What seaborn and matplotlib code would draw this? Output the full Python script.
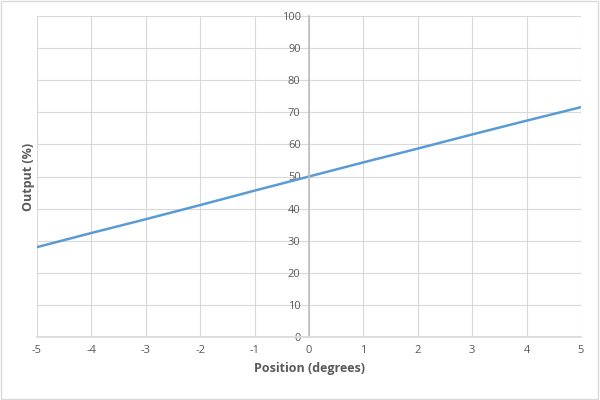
import matplotlib
matplotlib.use("Agg")
import matplotlib.pyplot as plt
import seaborn as sns
import pandas as pd

# values
positions = [-5, -4, -3, -2, -1, 0, 1, 2, 3, 4, 5]
outputs = [28.0, 32.4, 36.7, 41.1, 45.6, 50.0, 54.4, 58.7, 63.1, 67.4, 71.6]
x_ticks = [-5, -4, -3, -2, -1, 0, 1, 2, 3, 4, 5]
y_ticks = [0, 10, 20, 30, 40, 50, 60, 70, 80, 90, 100]

sns.set_theme(style="white")
plt.rcParams['font.family'] = ['Open Sans', 'DejaVu Sans']
plt.rcParams['axes.unicode_minus'] = False

df = pd.DataFrame({'pos': positions, 'out': outputs})

fig = plt.figure(figsize=(6, 4), dpi=100)
ax = fig.add_axes([37 / 600, 63 / 400, 544 / 600, 321 / 400])
sns.lineplot(data=df, x='pos', y='out', ax=ax, color='#5b9bd5', linewidth=1.8)

ax.set_xlim(-5, 5)
ax.set_ylim(0, 100)
ax.set_xticks(x_ticks)
ax.set_yticks(y_ticks)
ax.grid(True, color='#d9d9d9', linewidth=0.8)
ax.tick_params(length=0, labelsize=8, colors='#595959', pad=6)

for s in ['top', 'right']:
    ax.spines[s].set_visible(False)
ax.spines['bottom'].set_color('#d9d9d9')
ax.spines['left'].set_position(('data', 0))
ax.spines['left'].set_color('#bfbfbf')

ax.set_xlabel('Position (degrees)', fontsize=9, fontweight='bold', color='#595959')
ax.set_ylabel('Output (%)', fontsize=9, fontweight='bold', color='#595959')
ax.yaxis.set_label_coords(-0.003, 0.5)

fig.patches.append(plt.Rectangle((0.002, 0.003), 0.995, 0.994, transform=fig.transFigure,
                                 fill=False, edgecolor='#d9d9d9', linewidth=1))
fig.savefig('out.png', dpi=100)
